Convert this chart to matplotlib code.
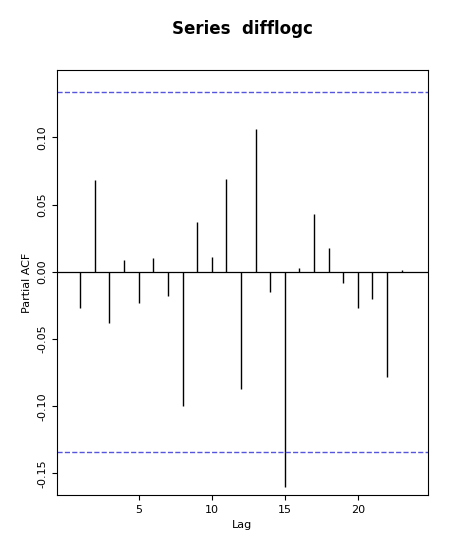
import matplotlib.pyplot as plt
import numpy as np

# PACF values
lags = np.arange(1, 24)
pacf = [-0.027, 0.068, -0.038, 0.009, -0.023, 0.010, -0.018, -0.100, 0.037,
        0.011, 0.069, -0.087, 0.106, -0.015, -0.160, 0.003, 0.043, 0.018,
        -0.008, -0.027, -0.020, -0.078, 0.001]
ci = 0.134

fig = plt.figure(figsize=(4.74, 5.53), dpi=100)
ax = fig.add_axes([0.12, 0.105, 0.783, 0.768])

ax.vlines(lags, 0, pacf, color='black', linewidth=1)
ax.axhline(0, color='black', linewidth=0.9)
ax.axhline(ci, color='#5555dd', linestyle='--', linewidth=1)
ax.axhline(-ci, color='#5555dd', linestyle='--', linewidth=1)

ax.set_xlim(-0.6, 24.8)
ax.set_ylim(-0.166, 0.15)
ax.set_xticks([5, 10, 15, 20])
ax.set_yticks([-0.15, -0.10, -0.05, 0.00, 0.05, 0.10])
ax.set_yticklabels(['-0.15', '-0.10', '-0.05', '0.00', '0.05', '0.10'],
                   rotation=90, va='center')
ax.tick_params(labelsize=8)
ax.set_xlabel('Lag', fontsize=8)
ax.set_ylabel('Partial ACF', fontsize=8)
ax.set_title('Series  difflogc', fontweight='bold', fontsize=12, pad=26)

fig.savefig('out.png')
